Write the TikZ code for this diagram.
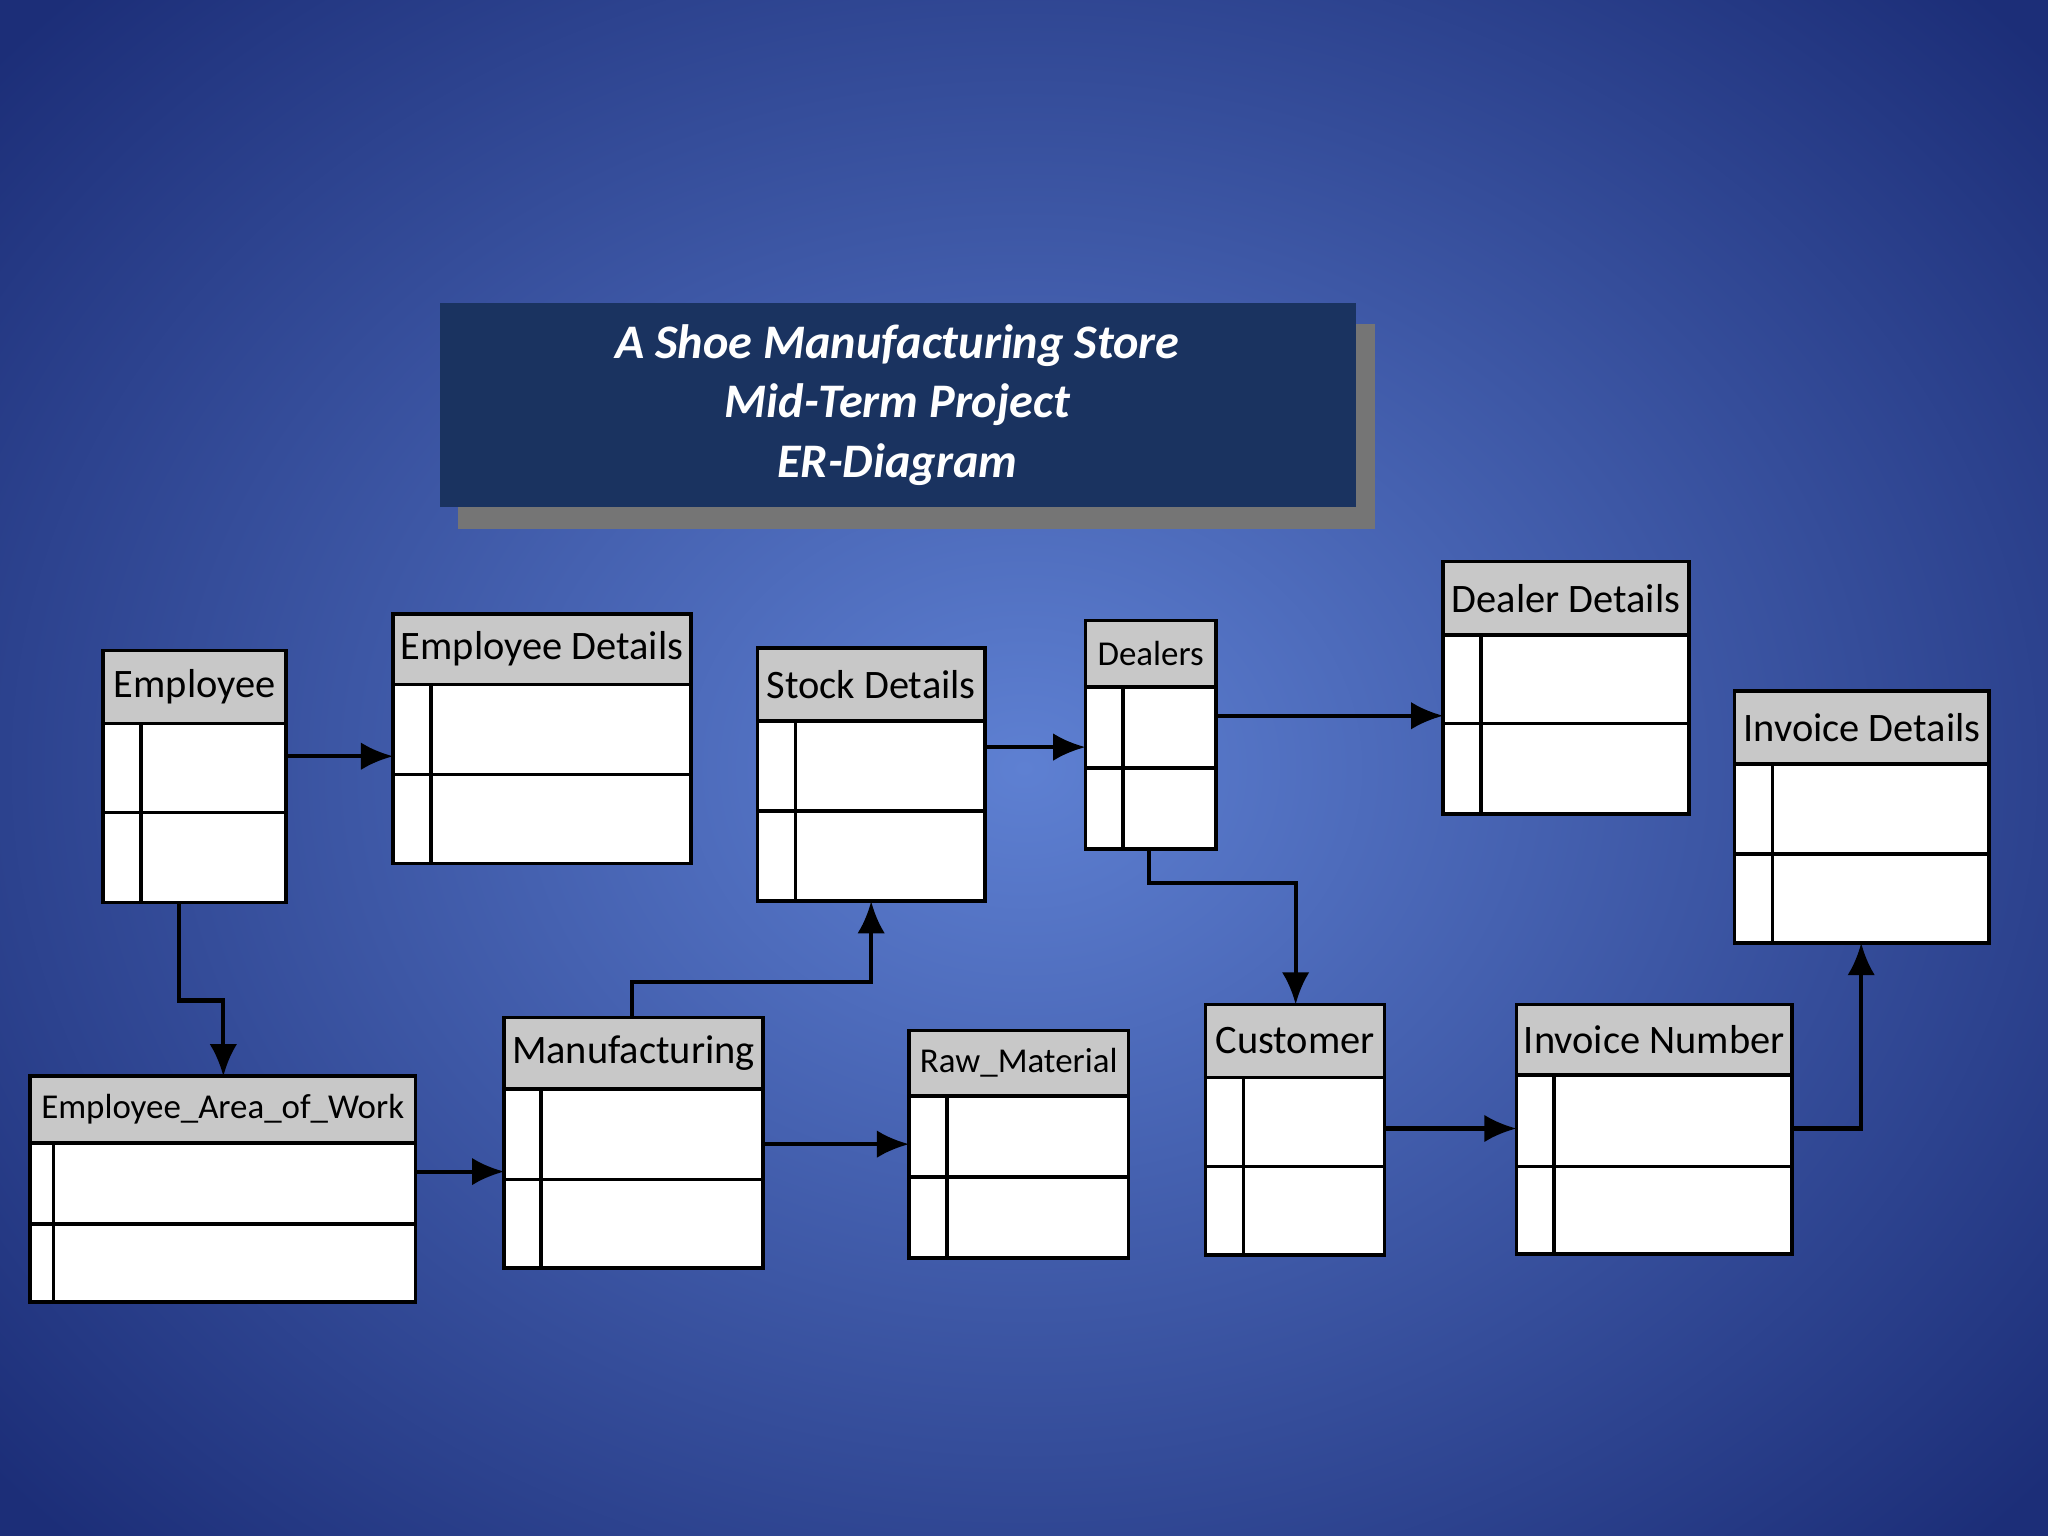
\documentclass[tikz,border=0pt]{standalone}
\usepackage{fontspec}
\setmainfont{Carlito}
\usetikzlibrary{arrows.meta}
\definecolor{hdrgray}{HTML}{C8C8C8}
\definecolor{titlebg}{HTML}{1A3360}
\definecolor{bgin}{HTML}{5E80D2}
\definecolor{bgout}{HTML}{1C2E78}
\tikzset{conn/.style={draw=black,line width=0.9pt,-{Latex[length=7pt,width=6pt]}},
 ent/.style={draw=black,line width=0.8pt}}
\newcommand\entity[9]{%
 \filldraw[ent,fill=hdrgray] (#2,#4) rectangle (#3,#5);
 \node (#1h) at ({(#2+#3)/2},{(#4+#5)/2}) {#9};
 \filldraw[ent,fill=white] (#2,#5) rectangle (#3,#7);
 \draw[ent] (#2,#6)--(#3,#6) (#8,#5)--(#8,#7);
 \coordinate (#1) at ({(#2+#3)/2},{(#5+#7)/2});}
\begin{document}
\begin{tikzpicture}[x=0.01cm,y=-0.01cm]
\useasboundingbox (0,0) rectangle (1568,1176);
\shade[inner color=bgin,outer color=bgout] (-250,-250) rectangle (1818,1426);
% title
\fill[gray!80!black!90] (351,248) rectangle (1053,405);
\fill[titlebg] (337,232) rectangle (1038,388);
\node[align=center,text=white,font=\fontsize{10.5pt}{13pt}\selectfont\bfseries\itshape] (title) at (687,310) {A Shoe Manufacturing Store\\Mid-Term Project\\ER-Diagram};
\def\big{\fontsize{8.8pt}{10pt}\selectfont}
\def\sml{\fontsize{7.6pt}{9pt}\selectfont}
\entity{emp}{79}{219}{498}{554}{622}{691}{108}{\big Employee}
\entity{empd}{301}{529}{470}{524}{593}{661}{330}{\big Employee Details}
\entity{stock}{580}{754}{496}{552}{621}{690}{609}{\big Stock Details}
\entity{deal}{831}{931}{475}{526}{588}{650}{860}{\sml Dealers}
\entity{deald}{1105}{1293}{430}{486}{554}{623}{1134}{\big Dealer Details}
\entity{invd}{1328}{1523}{529}{585}{654}{722}{1357}{\big Invoice Details}
\entity{area}{23}{318}{824}{875}{937}{997}{41}{\sml Employee\_Area\_of\_Work}
\entity{manu}{386}{584}{779}{834}{903}{971}{414}{\big Manufacturing}
\entity{raw}{696}{864}{789}{839}{901}{963}{725}{\sml Raw\_Material}
\entity{cust}{923}{1060}{769}{825}{893}{961}{952}{\big Customer}
\entity{invn}{1161}{1372}{769}{823}{893}{960}{1190}{\big Invoice Number}
% connectors
\draw[conn] (219,579) -- (301,579);
\draw[conn] (137,691) -- (137,766) -- (171,766) -- (171,824);
\draw[conn] (318,897) -- (386,897);
\draw[conn] (484,779) -- (484,752) -- (667,752) -- (667,690);
\draw[conn] (584,876) -- (696,876);
\draw[conn] (754,572) -- (831,572);
\draw[conn] (931,548) -- (1105,548);
\draw[conn] (880,650) -- (880,676) -- (992,676) -- (992,769);
\draw[conn] (1060,864) -- (1161,864);
\draw[conn] (1372,864) -- (1425,864) -- (1425,722);
\end{tikzpicture}
\end{document}
